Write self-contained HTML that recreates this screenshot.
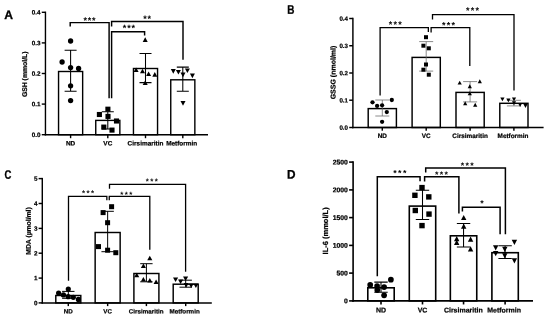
<!DOCTYPE html>
<html lang="en"><head><meta charset="utf-8"><title>Figure</title>
<style>html,body{margin:0;padding:0;background:#fff;overflow:hidden}svg{display:block}</style></head>
<body>
<svg width="550" height="318" viewBox="0 0 550 318" font-family='"Liberation Sans", sans-serif' fill="#000" shape-rendering="geometricPrecision" text-rendering="geometricPrecision">
<rect x="0" y="0" width="550" height="318" fill="#fff"/>
<text transform="translate(4.29 18.95) matrix(0.985 0.0006 0 1 0 0)" x="0" y="0" font-size="12.3" font-weight="bold" stroke="#000" stroke-width="0.3">A</text>
<rect x="58.55" y="71.50" width="24.10" height="63.20" fill="#fff" stroke="#000" stroke-width="1.4"/>
<rect x="95.75" y="120.40" width="24.10" height="14.30" fill="#fff" stroke="#000" stroke-width="1.4"/>
<rect x="133.45" y="68.50" width="24.10" height="66.20" fill="#fff" stroke="#000" stroke-width="1.4"/>
<rect x="170.75" y="79.80" width="24.10" height="54.90" fill="#fff" stroke="#000" stroke-width="1.4"/>
<line x1="45.45" y1="11.60" x2="45.45" y2="135.40" stroke="#000" stroke-width="1.4" stroke-linecap="butt"/>
<line x1="44.75" y1="134.70" x2="208.00" y2="134.70" stroke="#000" stroke-width="1.4" stroke-linecap="butt"/>
<line x1="41.75" y1="12.30" x2="45.45" y2="12.30" stroke="#000" stroke-width="1.4" stroke-linecap="butt"/>
<text transform="translate(40.55 14.57) matrix(1 0.0006 0 1 0 0)" x="0" y="0" font-size="6.3" font-weight="bold" text-anchor="end" stroke="#000" stroke-width="0.22">0.4</text>
<line x1="41.75" y1="42.90" x2="45.45" y2="42.90" stroke="#000" stroke-width="1.4" stroke-linecap="butt"/>
<text transform="translate(40.55 45.17) matrix(1 0.0006 0 1 0 0)" x="0" y="0" font-size="6.3" font-weight="bold" text-anchor="end" stroke="#000" stroke-width="0.22">0.3</text>
<line x1="41.75" y1="73.50" x2="45.45" y2="73.50" stroke="#000" stroke-width="1.4" stroke-linecap="butt"/>
<text transform="translate(40.55 75.77) matrix(1 0.0006 0 1 0 0)" x="0" y="0" font-size="6.3" font-weight="bold" text-anchor="end" stroke="#000" stroke-width="0.22">0.2</text>
<line x1="41.75" y1="104.10" x2="45.45" y2="104.10" stroke="#000" stroke-width="1.4" stroke-linecap="butt"/>
<text transform="translate(40.55 106.37) matrix(1 0.0006 0 1 0 0)" x="0" y="0" font-size="6.3" font-weight="bold" text-anchor="end" stroke="#000" stroke-width="0.22">0.1</text>
<line x1="41.75" y1="134.70" x2="45.45" y2="134.70" stroke="#000" stroke-width="1.4" stroke-linecap="butt"/>
<text transform="translate(40.55 136.97) matrix(1 0.0006 0 1 0 0)" x="0" y="0" font-size="6.3" font-weight="bold" text-anchor="end" stroke="#000" stroke-width="0.22">0.0</text>
<text transform="translate(27.10 74.30) rotate(-90) matrix(1 0.0006 0 1 0 0)" x="0" y="0" font-size="6.85" font-weight="bold" text-anchor="middle" stroke="#000" stroke-width="0.22">GSH (mmol/L)</text>
<line x1="70.60" y1="134.70" x2="70.60" y2="138.20" stroke="#000" stroke-width="1.4" stroke-linecap="butt"/>
<text transform="translate(70.60 145.40) matrix(1 0.0006 0 1 0 0)" x="0" y="0" font-size="6.45" font-weight="bold" text-anchor="middle" stroke="#000" stroke-width="0.22">ND</text>
<line x1="107.80" y1="134.70" x2="107.80" y2="138.20" stroke="#000" stroke-width="1.4" stroke-linecap="butt"/>
<text transform="translate(107.80 145.40) matrix(1 0.0006 0 1 0 0)" x="0" y="0" font-size="6.45" font-weight="bold" text-anchor="middle" stroke="#000" stroke-width="0.22">VC</text>
<line x1="145.50" y1="134.70" x2="145.50" y2="138.20" stroke="#000" stroke-width="1.4" stroke-linecap="butt"/>
<text transform="translate(145.50 145.40) matrix(1 0.0006 0 1 0 0)" x="0" y="0" font-size="6.45" font-weight="bold" text-anchor="middle" stroke="#000" stroke-width="0.22">Cirsimaritin</text>
<line x1="182.80" y1="134.70" x2="182.80" y2="138.20" stroke="#000" stroke-width="1.4" stroke-linecap="butt"/>
<text transform="translate(181.70 145.40) matrix(1 0.0006 0 1 0 0)" x="0" y="0" font-size="6.45" font-weight="bold" text-anchor="middle" stroke="#000" stroke-width="0.22">Metformin</text>
<path d="M70.60 50.30V91.20M64.60 50.30H76.60M64.60 91.20H76.60" stroke="#000" stroke-width="1.05" fill="none"/>
<path d="M107.80 111.70V129.00M101.80 111.70H113.80M101.80 129.00H113.80" stroke="#000" stroke-width="1.05" fill="none"/>
<path d="M145.50 53.40V82.60M139.50 53.40H151.50M139.50 82.60H151.50" stroke="#000" stroke-width="1.05" fill="none"/>
<path d="M182.80 67.10V91.20M176.80 67.10H188.80M176.80 91.20H188.80" stroke="#000" stroke-width="1.05" fill="none"/>
<circle cx="70.60" cy="41.00" r="2.65"/>
<circle cx="62.10" cy="62.00" r="2.65"/>
<circle cx="70.60" cy="67.60" r="2.65"/>
<circle cx="78.60" cy="68.50" r="2.65"/>
<circle cx="70.60" cy="85.80" r="2.65"/>
<circle cx="70.60" cy="100.60" r="2.65"/>
<rect x="105.35" y="106.65" width="5.10" height="5.10"/>
<rect x="96.85" y="111.95" width="5.10" height="5.10"/>
<rect x="105.45" y="113.85" width="5.10" height="5.10"/>
<rect x="113.95" y="118.45" width="5.10" height="5.10"/>
<rect x="101.25" y="124.55" width="5.10" height="5.10"/>
<rect x="109.45" y="127.55" width="5.10" height="5.10"/>
<polygon points="145.20,37.30 142.70,41.90 147.70,41.90"/>
<polygon points="136.10,67.50 133.60,72.10 138.60,72.10"/>
<polygon points="142.50,68.70 140.00,73.30 145.00,73.30"/>
<polygon points="148.60,71.50 146.10,76.10 151.10,76.10"/>
<polygon points="154.80,72.10 152.30,76.70 157.30,76.70"/>
<polygon points="145.20,80.30 142.70,84.90 147.70,84.90"/>
<polygon points="173.30,73.70 170.80,69.10 175.80,69.10"/>
<polygon points="178.40,74.50 175.90,69.90 180.90,69.90"/>
<polygon points="187.40,73.10 184.90,68.50 189.90,68.50"/>
<polygon points="183.00,77.20 180.50,72.60 185.50,72.60"/>
<polygon points="192.40,78.20 189.90,73.60 194.90,73.60"/>
<polygon points="183.00,105.70 180.50,101.10 185.50,101.10"/>
<polyline points="70.20,26.50 70.20,22.60 109.10,22.60 109.10,98.20" fill="none" stroke="#000" stroke-width="1.45" stroke-linejoin="miter"/>
<text transform="translate(89.90 23.57) matrix(1 0.0006 0 1 0 0)" x="0" y="0" font-size="9.0" font-weight="bold" text-anchor="middle" letter-spacing="0.8">***</text>
<polyline points="111.60,26.60 111.60,21.50 183.00,21.50 183.00,59.80" fill="none" stroke="#000" stroke-width="1.45" stroke-linejoin="miter"/>
<text transform="translate(147.60 21.87) matrix(1 0.0006 0 1 0 0)" x="0" y="0" font-size="9.0" font-weight="bold" text-anchor="middle" letter-spacing="0.8">**</text>
<polyline points="111.60,98.20 111.60,31.80 144.60,31.80 144.60,35.60" fill="none" stroke="#000" stroke-width="1.45" stroke-linejoin="miter"/>
<text transform="translate(129.30 30.97) matrix(1 0.0006 0 1 0 0)" x="0" y="0" font-size="9.0" font-weight="bold" text-anchor="middle" letter-spacing="0.8">***</text>
<text transform="translate(287.25 13.70) matrix(0.81 0.0006 0 1 0 0)" x="0" y="0" font-size="12.3" font-weight="bold" stroke="#000" stroke-width="0.3">B</text>
<rect x="368.20" y="108.60" width="28.20" height="18.90" fill="#fff" stroke="#000" stroke-width="1.45"/>
<rect x="412.10" y="57.40" width="28.20" height="70.10" fill="#fff" stroke="#000" stroke-width="1.45"/>
<rect x="456.00" y="92.40" width="28.20" height="35.10" fill="#fff" stroke="#000" stroke-width="1.45"/>
<rect x="499.80" y="103.30" width="28.20" height="24.20" fill="#fff" stroke="#000" stroke-width="1.45"/>
<line x1="352.90" y1="17.77" x2="352.90" y2="128.22" stroke="#000" stroke-width="1.45" stroke-linecap="butt"/>
<line x1="352.17" y1="127.50" x2="543.60" y2="127.50" stroke="#000" stroke-width="1.45" stroke-linecap="butt"/>
<line x1="349.20" y1="18.50" x2="352.90" y2="18.50" stroke="#000" stroke-width="1.45" stroke-linecap="butt"/>
<text transform="translate(348.00 20.73) matrix(1 0.0006 0 1 0 0)" x="0" y="0" font-size="6.2" font-weight="bold" text-anchor="end" stroke="#000" stroke-width="0.22">0.4</text>
<line x1="349.20" y1="45.75" x2="352.90" y2="45.75" stroke="#000" stroke-width="1.45" stroke-linecap="butt"/>
<text transform="translate(348.00 47.98) matrix(1 0.0006 0 1 0 0)" x="0" y="0" font-size="6.2" font-weight="bold" text-anchor="end" stroke="#000" stroke-width="0.22">0.3</text>
<line x1="349.20" y1="73.00" x2="352.90" y2="73.00" stroke="#000" stroke-width="1.45" stroke-linecap="butt"/>
<text transform="translate(348.00 75.23) matrix(1 0.0006 0 1 0 0)" x="0" y="0" font-size="6.2" font-weight="bold" text-anchor="end" stroke="#000" stroke-width="0.22">0.2</text>
<line x1="349.20" y1="100.20" x2="352.90" y2="100.20" stroke="#000" stroke-width="1.45" stroke-linecap="butt"/>
<text transform="translate(348.00 102.43) matrix(1 0.0006 0 1 0 0)" x="0" y="0" font-size="6.2" font-weight="bold" text-anchor="end" stroke="#000" stroke-width="0.22">0.1</text>
<line x1="349.20" y1="127.50" x2="352.90" y2="127.50" stroke="#000" stroke-width="1.45" stroke-linecap="butt"/>
<text transform="translate(348.00 129.73) matrix(1 0.0006 0 1 0 0)" x="0" y="0" font-size="6.2" font-weight="bold" text-anchor="end" stroke="#000" stroke-width="0.22">0.0</text>
<text transform="translate(335.40 72.50) rotate(-90) matrix(1 0.0006 0 1 0 0)" x="0" y="0" font-size="7.0" font-weight="bold" text-anchor="middle" stroke="#000" stroke-width="0.22">GSSG (nmol/ml)</text>
<line x1="382.30" y1="127.50" x2="382.30" y2="130.70" stroke="#000" stroke-width="1.45" stroke-linecap="butt"/>
<text transform="translate(382.30 137.90) matrix(1 0.0006 0 1 0 0)" x="0" y="0" font-size="6.4" font-weight="bold" text-anchor="middle" stroke="#000" stroke-width="0.22">ND</text>
<line x1="426.20" y1="127.50" x2="426.20" y2="130.70" stroke="#000" stroke-width="1.45" stroke-linecap="butt"/>
<text transform="translate(426.20 137.90) matrix(1 0.0006 0 1 0 0)" x="0" y="0" font-size="6.4" font-weight="bold" text-anchor="middle" stroke="#000" stroke-width="0.22">VC</text>
<line x1="470.10" y1="127.50" x2="470.10" y2="130.70" stroke="#000" stroke-width="1.45" stroke-linecap="butt"/>
<text transform="translate(470.10 137.90) matrix(1 0.0006 0 1 0 0)" x="0" y="0" font-size="6.4" font-weight="bold" text-anchor="middle" stroke="#000" stroke-width="0.22">Cirsimaritin</text>
<line x1="513.90" y1="127.50" x2="513.90" y2="130.70" stroke="#000" stroke-width="1.45" stroke-linecap="butt"/>
<text transform="translate(513.00 137.90) matrix(1 0.0006 0 1 0 0)" x="0" y="0" font-size="6.4" font-weight="bold" text-anchor="middle" stroke="#000" stroke-width="0.22">Metformin</text>
<path d="M382.30 100.00V116.00M375.30 100.00H389.30M375.30 116.00H389.30" stroke="#666" stroke-width="0.75" fill="none"/>
<path d="M426.20 41.60V71.10M419.20 41.60H433.20M419.20 71.10H433.20" stroke="#666" stroke-width="0.75" fill="none"/>
<path d="M470.10 81.60V101.90M463.10 81.60H477.10M463.10 101.90H477.10" stroke="#666" stroke-width="0.75" fill="none"/>
<path d="M513.90 100.30V105.90M506.90 100.30H520.90M506.90 105.90H520.90" stroke="#666" stroke-width="0.75" fill="none"/>
<circle cx="372.50" cy="102.30" r="2.15"/>
<circle cx="391.80" cy="100.00" r="2.15"/>
<circle cx="377.10" cy="105.90" r="2.15"/>
<circle cx="382.10" cy="105.30" r="2.15"/>
<circle cx="386.80" cy="112.10" r="2.15"/>
<circle cx="382.10" cy="121.80" r="2.15"/>
<rect x="424.00" y="35.20" width="4.00" height="4.00"/>
<rect x="421.40" y="43.70" width="4.00" height="4.00"/>
<rect x="426.80" y="46.30" width="4.00" height="4.00"/>
<rect x="424.00" y="62.50" width="4.00" height="4.00"/>
<rect x="421.40" y="67.70" width="4.00" height="4.00"/>
<rect x="426.80" y="72.70" width="4.00" height="4.00"/>
<polygon points="459.70,80.65 457.60,84.55 461.80,84.55"/>
<polygon points="479.80,79.25 477.70,83.15 481.90,83.15"/>
<polygon points="469.80,84.25 467.70,88.15 471.90,88.15"/>
<polygon points="469.80,91.35 467.70,95.25 471.90,95.25"/>
<polygon points="465.20,101.35 463.10,105.25 467.30,105.25"/>
<polygon points="475.20,102.75 473.10,106.65 477.30,106.65"/>
<polygon points="502.40,101.35 500.30,97.45 504.50,97.45"/>
<polygon points="508.40,102.35 506.30,98.45 510.50,98.45"/>
<polygon points="514.00,101.35 511.90,97.45 516.10,97.45"/>
<polygon points="520.10,106.95 518.00,103.05 522.20,103.05"/>
<polygon points="525.50,107.95 523.40,104.05 527.60,104.05"/>
<polygon points="514.00,105.25 511.90,101.35 516.10,101.35"/>
<polyline points="380.10,95.60 380.10,27.55 428.35,27.55 428.35,32.00" fill="none" stroke="#000" stroke-width="1.3" stroke-linejoin="miter"/>
<text transform="translate(395.82 27.57) matrix(1 0.0006 0 1 0 0)" x="0" y="0" font-size="9.0" font-weight="bold" text-anchor="middle" letter-spacing="1.25">***</text>
<polyline points="431.10,32.60 431.10,27.55 469.80,27.55 469.80,66.10" fill="none" stroke="#000" stroke-width="1.3" stroke-linejoin="miter"/>
<text transform="translate(449.12 28.17) matrix(1 0.0006 0 1 0 0)" x="0" y="0" font-size="9.0" font-weight="bold" text-anchor="middle" letter-spacing="1.25">***</text>
<polyline points="432.50,19.50 432.50,14.70 514.00,14.70 514.00,90.60" fill="none" stroke="#000" stroke-width="1.3" stroke-linejoin="miter"/>
<text transform="translate(473.23 13.52) matrix(1 0.0006 0 1 0 0)" x="0" y="0" font-size="9.0" font-weight="bold" text-anchor="middle" letter-spacing="1.25">***</text>
<text transform="translate(4.57 178.85) matrix(0.775 0.0006 0 1 0 0)" x="0" y="0" font-size="12.3" font-weight="bold" stroke="#000" stroke-width="0.3">C</text>
<rect x="55.80" y="295.50" width="25.00" height="7.40" fill="#fff" stroke="#000" stroke-width="1.45"/>
<rect x="95.15" y="232.50" width="25.00" height="70.40" fill="#fff" stroke="#000" stroke-width="1.45"/>
<rect x="133.90" y="273.50" width="25.00" height="29.40" fill="#fff" stroke="#000" stroke-width="1.45"/>
<rect x="173.20" y="284.20" width="25.00" height="18.70" fill="#fff" stroke="#000" stroke-width="1.45"/>
<line x1="42.30" y1="177.88" x2="42.30" y2="303.62" stroke="#000" stroke-width="1.45" stroke-linecap="butt"/>
<line x1="41.57" y1="302.90" x2="211.80" y2="302.90" stroke="#000" stroke-width="1.45" stroke-linecap="butt"/>
<line x1="38.60" y1="178.60" x2="42.30" y2="178.60" stroke="#000" stroke-width="1.45" stroke-linecap="butt"/>
<text transform="translate(37.40 180.87) matrix(1 0.0006 0 1 0 0)" x="0" y="0" font-size="6.3" font-weight="bold" text-anchor="end" stroke="#000" stroke-width="0.22">5</text>
<line x1="38.60" y1="203.50" x2="42.30" y2="203.50" stroke="#000" stroke-width="1.45" stroke-linecap="butt"/>
<text transform="translate(37.40 205.77) matrix(1 0.0006 0 1 0 0)" x="0" y="0" font-size="6.3" font-weight="bold" text-anchor="end" stroke="#000" stroke-width="0.22">4</text>
<line x1="38.60" y1="228.40" x2="42.30" y2="228.40" stroke="#000" stroke-width="1.45" stroke-linecap="butt"/>
<text transform="translate(37.40 230.67) matrix(1 0.0006 0 1 0 0)" x="0" y="0" font-size="6.3" font-weight="bold" text-anchor="end" stroke="#000" stroke-width="0.22">3</text>
<line x1="38.60" y1="253.20" x2="42.30" y2="253.20" stroke="#000" stroke-width="1.45" stroke-linecap="butt"/>
<text transform="translate(37.40 255.47) matrix(1 0.0006 0 1 0 0)" x="0" y="0" font-size="6.3" font-weight="bold" text-anchor="end" stroke="#000" stroke-width="0.22">2</text>
<line x1="38.60" y1="278.10" x2="42.30" y2="278.10" stroke="#000" stroke-width="1.45" stroke-linecap="butt"/>
<text transform="translate(37.40 280.37) matrix(1 0.0006 0 1 0 0)" x="0" y="0" font-size="6.3" font-weight="bold" text-anchor="end" stroke="#000" stroke-width="0.22">1</text>
<line x1="38.60" y1="302.90" x2="42.30" y2="302.90" stroke="#000" stroke-width="1.45" stroke-linecap="butt"/>
<text transform="translate(37.40 305.17) matrix(1 0.0006 0 1 0 0)" x="0" y="0" font-size="6.3" font-weight="bold" text-anchor="end" stroke="#000" stroke-width="0.22">0</text>
<text transform="translate(30.70 231.00) rotate(-90) matrix(1 0.0006 0 1 0 0)" x="0" y="0" font-size="6.8" font-weight="bold" text-anchor="middle" stroke="#000" stroke-width="0.22">MDA (µmol/ml)</text>
<line x1="68.30" y1="302.90" x2="68.30" y2="306.10" stroke="#000" stroke-width="1.45" stroke-linecap="butt"/>
<text transform="translate(68.30 313.40) matrix(1 0.0006 0 1 0 0)" x="0" y="0" font-size="6.25" font-weight="bold" text-anchor="middle" stroke="#000" stroke-width="0.22">ND</text>
<line x1="107.65" y1="302.90" x2="107.65" y2="306.10" stroke="#000" stroke-width="1.45" stroke-linecap="butt"/>
<text transform="translate(107.65 313.40) matrix(1 0.0006 0 1 0 0)" x="0" y="0" font-size="6.25" font-weight="bold" text-anchor="middle" stroke="#000" stroke-width="0.22">VC</text>
<line x1="146.40" y1="302.90" x2="146.40" y2="306.10" stroke="#000" stroke-width="1.45" stroke-linecap="butt"/>
<text transform="translate(146.20 313.40) matrix(1 0.0006 0 1 0 0)" x="0" y="0" font-size="6.25" font-weight="bold" text-anchor="middle" stroke="#000" stroke-width="0.22">Cirsimaritin</text>
<line x1="185.70" y1="302.90" x2="185.70" y2="306.10" stroke="#000" stroke-width="1.45" stroke-linecap="butt"/>
<text transform="translate(184.60 313.40) matrix(1 0.0006 0 1 0 0)" x="0" y="0" font-size="6.25" font-weight="bold" text-anchor="middle" stroke="#000" stroke-width="0.22">Metformin</text>
<path d="M68.30 291.40V298.30M62.10 291.40H74.50M62.10 298.30H74.50" stroke="#000" stroke-width="1.0" fill="none"/>
<path d="M107.65 211.30V251.70M101.45 211.30H113.85M101.45 251.70H113.85" stroke="#000" stroke-width="1.0" fill="none"/>
<path d="M146.40 263.70V281.80M140.20 263.70H152.60M140.20 281.80H152.60" stroke="#000" stroke-width="1.0" fill="none"/>
<path d="M185.70 280.20V287.20M179.50 280.20H191.90M179.50 287.20H191.90" stroke="#000" stroke-width="1.0" fill="none"/>
<circle cx="68.30" cy="289.10" r="2.60"/>
<circle cx="58.60" cy="293.10" r="2.60"/>
<circle cx="63.45" cy="294.90" r="2.60"/>
<circle cx="68.20" cy="296.70" r="2.60"/>
<circle cx="73.30" cy="297.30" r="2.60"/>
<circle cx="78.40" cy="299.40" r="2.60"/>
<rect x="109.10" y="204.20" width="5.00" height="5.00"/>
<rect x="100.60" y="210.10" width="5.00" height="5.00"/>
<rect x="105.10" y="220.20" width="5.00" height="5.00"/>
<rect x="96.00" y="244.10" width="5.00" height="5.00"/>
<rect x="105.10" y="247.70" width="5.00" height="5.00"/>
<rect x="113.30" y="250.20" width="5.00" height="5.00"/>
<polygon points="149.80,255.75 147.25,260.25 152.35,260.25"/>
<polygon points="143.40,263.45 140.85,267.95 145.95,267.95"/>
<polygon points="136.70,272.85 134.15,277.35 139.25,277.35"/>
<polygon points="143.40,276.95 140.85,281.45 145.95,281.45"/>
<polygon points="149.80,277.95 147.25,282.45 152.35,282.45"/>
<polygon points="156.10,279.55 153.55,284.05 158.65,284.05"/>
<polygon points="175.60,282.05 173.05,277.55 178.15,277.55"/>
<polygon points="180.60,284.05 178.05,279.55 183.15,279.55"/>
<polygon points="185.60,280.95 183.05,276.45 188.15,276.45"/>
<polygon points="186.20,287.45 183.65,282.95 188.75,282.95"/>
<polygon points="191.20,288.05 188.65,283.55 193.75,283.55"/>
<polygon points="195.90,288.05 193.35,283.55 198.45,283.55"/>
<polyline points="68.50,280.80 68.50,196.40 106.85,196.40 106.85,200.20" fill="none" stroke="#000" stroke-width="1.3" stroke-linejoin="miter"/>
<text transform="translate(88.67 195.73) matrix(1 0.0006 0 1 0 0)" x="0" y="0" font-size="7.9" font-weight="bold" text-anchor="middle" letter-spacing="1.35">***</text>
<polyline points="109.25,200.20 109.25,196.40 149.80,196.40 149.80,249.80" fill="none" stroke="#000" stroke-width="1.3" stroke-linejoin="miter"/>
<text transform="translate(126.97 197.13) matrix(1 0.0006 0 1 0 0)" x="0" y="0" font-size="7.9" font-weight="bold" text-anchor="middle" letter-spacing="1.35">***</text>
<polyline points="109.50,188.70 109.50,184.40 185.60,184.40 185.60,271.70" fill="none" stroke="#000" stroke-width="1.3" stroke-linejoin="miter"/>
<text transform="translate(152.48 184.03) matrix(1 0.0006 0 1 0 0)" x="0" y="0" font-size="7.9" font-weight="bold" text-anchor="middle" letter-spacing="1.35">***</text>
<text transform="translate(287.12 178.60) matrix(0.96 0.0006 0 1 0 0)" x="0" y="0" font-size="12.3" font-weight="bold" stroke="#000" stroke-width="0.3">D</text>
<rect x="367.80" y="287.80" width="26.40" height="13.05" fill="#fff" stroke="#000" stroke-width="1.6"/>
<rect x="409.30" y="206.10" width="26.40" height="94.75" fill="#fff" stroke="#000" stroke-width="1.6"/>
<rect x="450.35" y="235.80" width="26.40" height="65.05" fill="#fff" stroke="#000" stroke-width="1.6"/>
<rect x="491.90" y="252.70" width="26.40" height="48.15" fill="#fff" stroke="#000" stroke-width="1.6"/>
<line x1="353.10" y1="161.30" x2="353.10" y2="301.65" stroke="#000" stroke-width="1.6" stroke-linecap="butt"/>
<line x1="352.30" y1="300.85" x2="533.00" y2="300.85" stroke="#000" stroke-width="1.6" stroke-linecap="butt"/>
<line x1="349.10" y1="162.10" x2="353.10" y2="162.10" stroke="#000" stroke-width="1.6" stroke-linecap="butt"/>
<text transform="translate(347.90 164.55) matrix(1 0.0006 0 1 0 0)" x="0" y="0" font-size="6.8" font-weight="bold" text-anchor="end" stroke="#000" stroke-width="0.22">2500</text>
<line x1="349.10" y1="189.90" x2="353.10" y2="189.90" stroke="#000" stroke-width="1.6" stroke-linecap="butt"/>
<text transform="translate(347.90 192.35) matrix(1 0.0006 0 1 0 0)" x="0" y="0" font-size="6.8" font-weight="bold" text-anchor="end" stroke="#000" stroke-width="0.22">2000</text>
<line x1="349.10" y1="217.60" x2="353.10" y2="217.60" stroke="#000" stroke-width="1.6" stroke-linecap="butt"/>
<text transform="translate(347.90 220.05) matrix(1 0.0006 0 1 0 0)" x="0" y="0" font-size="6.8" font-weight="bold" text-anchor="end" stroke="#000" stroke-width="0.22">1500</text>
<line x1="349.10" y1="245.40" x2="353.10" y2="245.40" stroke="#000" stroke-width="1.6" stroke-linecap="butt"/>
<text transform="translate(347.90 247.85) matrix(1 0.0006 0 1 0 0)" x="0" y="0" font-size="6.8" font-weight="bold" text-anchor="end" stroke="#000" stroke-width="0.22">1000</text>
<line x1="349.10" y1="273.10" x2="353.10" y2="273.10" stroke="#000" stroke-width="1.6" stroke-linecap="butt"/>
<text transform="translate(347.90 275.55) matrix(1 0.0006 0 1 0 0)" x="0" y="0" font-size="6.8" font-weight="bold" text-anchor="end" stroke="#000" stroke-width="0.22">500</text>
<line x1="349.10" y1="300.90" x2="353.10" y2="300.90" stroke="#000" stroke-width="1.6" stroke-linecap="butt"/>
<text transform="translate(347.90 303.35) matrix(1 0.0006 0 1 0 0)" x="0" y="0" font-size="6.8" font-weight="bold" text-anchor="end" stroke="#000" stroke-width="0.22">0</text>
<text transform="translate(328.10 230.90) rotate(-90) matrix(1 0.0006 0 1 0 0)" x="0" y="0" font-size="7.5" font-weight="bold" text-anchor="middle" stroke="#000" stroke-width="0.22">IL-6 (mmol/L)</text>
<line x1="381.00" y1="300.85" x2="381.00" y2="304.45" stroke="#000" stroke-width="1.6" stroke-linecap="butt"/>
<text transform="translate(381.00 312.50) matrix(1 0.0006 0 1 0 0)" x="0" y="0" font-size="7.0" font-weight="bold" text-anchor="middle" stroke="#000" stroke-width="0.22">ND</text>
<line x1="422.50" y1="300.85" x2="422.50" y2="304.45" stroke="#000" stroke-width="1.6" stroke-linecap="butt"/>
<text transform="translate(422.50 312.50) matrix(1 0.0006 0 1 0 0)" x="0" y="0" font-size="7.0" font-weight="bold" text-anchor="middle" stroke="#000" stroke-width="0.22">VC</text>
<line x1="463.55" y1="300.85" x2="463.55" y2="304.45" stroke="#000" stroke-width="1.6" stroke-linecap="butt"/>
<text transform="translate(463.35 312.50) matrix(1 0.0006 0 1 0 0)" x="0" y="0" font-size="7.0" font-weight="bold" text-anchor="middle" stroke="#000" stroke-width="0.22">Cirsimaritin</text>
<line x1="505.10" y1="300.85" x2="505.10" y2="304.45" stroke="#000" stroke-width="1.6" stroke-linecap="butt"/>
<text transform="translate(504.10 312.50) matrix(1 0.0006 0 1 0 0)" x="0" y="0" font-size="7.0" font-weight="bold" text-anchor="middle" stroke="#000" stroke-width="0.22">Metformin</text>
<path d="M381.00 282.10V292.30M374.30 282.10H387.70M374.30 292.30H387.70" stroke="#000" stroke-width="1.05" fill="none"/>
<path d="M422.50 190.20V219.50M415.80 190.20H429.20M415.80 219.50H429.20" stroke="#000" stroke-width="1.05" fill="none"/>
<path d="M463.55 223.50V246.90M456.85 223.50H470.25M456.85 246.90H470.25" stroke="#000" stroke-width="1.05" fill="none"/>
<path d="M505.10 245.70V258.40M498.40 245.70H511.80M498.40 258.40H511.80" stroke="#000" stroke-width="1.05" fill="none"/>
<circle cx="370.20" cy="284.90" r="2.85"/>
<circle cx="377.10" cy="286.10" r="2.85"/>
<circle cx="384.10" cy="287.10" r="2.85"/>
<circle cx="377.30" cy="290.10" r="2.85"/>
<circle cx="384.10" cy="295.30" r="2.85"/>
<circle cx="390.90" cy="279.70" r="2.85"/>
<rect x="419.30" y="184.90" width="5.40" height="5.40"/>
<rect x="412.20" y="192.60" width="5.40" height="5.40"/>
<rect x="426.10" y="194.20" width="5.40" height="5.40"/>
<rect x="412.60" y="207.80" width="5.40" height="5.40"/>
<rect x="426.30" y="211.40" width="5.40" height="5.40"/>
<rect x="419.30" y="222.90" width="5.40" height="5.40"/>
<polygon points="463.70,214.90 461.00,220.10 466.40,220.10"/>
<polygon points="463.70,223.60 461.00,228.80 466.40,228.80"/>
<polygon points="456.70,236.00 454.00,241.20 459.40,241.20"/>
<polygon points="456.70,239.70 454.00,244.90 459.40,244.90"/>
<polygon points="470.60,236.60 467.90,241.80 473.30,241.80"/>
<polygon points="470.60,246.30 467.90,251.50 473.30,251.50"/>
<polygon points="514.40,244.90 511.70,239.70 517.10,239.70"/>
<polygon points="495.70,250.40 493.00,245.20 498.40,245.20"/>
<polygon points="504.80,251.90 502.10,246.70 507.50,246.70"/>
<polygon points="495.70,256.30 493.00,251.10 498.40,251.10"/>
<polygon points="504.80,258.40 502.10,253.20 507.50,253.20"/>
<polygon points="514.40,263.40 511.70,258.20 517.10,258.20"/>
<polyline points="377.30,276.20 377.30,176.80 420.05,176.80 420.05,181.20" fill="none" stroke="#000" stroke-width="1.5" stroke-linejoin="miter"/>
<text transform="translate(400.48 175.92) matrix(1 0.0006 0 1 0 0)" x="0" y="0" font-size="8.9" font-weight="bold" text-anchor="middle" letter-spacing="1.35">***</text>
<polyline points="424.60,181.40 424.60,176.80 458.90,176.80 458.90,213.40" fill="none" stroke="#000" stroke-width="1.5" stroke-linejoin="miter"/>
<text transform="translate(442.18 177.52) matrix(1 0.0006 0 1 0 0)" x="0" y="0" font-size="8.9" font-weight="bold" text-anchor="middle" letter-spacing="1.35">***</text>
<polyline points="425.70,172.50 425.70,167.90 505.40,167.90 505.40,234.20" fill="none" stroke="#000" stroke-width="1.5" stroke-linejoin="miter"/>
<text transform="translate(467.88 168.52) matrix(1 0.0006 0 1 0 0)" x="0" y="0" font-size="8.9" font-weight="bold" text-anchor="middle" letter-spacing="1.35">***</text>
<polyline points="462.40,211.40 462.40,207.20 500.10,207.20 500.10,234.20" fill="none" stroke="#000" stroke-width="1.5" stroke-linejoin="miter"/>
<text transform="translate(482.57 206.32) matrix(1 0.0006 0 1 0 0)" x="0" y="0" font-size="8.9" font-weight="bold" text-anchor="middle" letter-spacing="1.35">*</text>
</svg>
</body></html>
